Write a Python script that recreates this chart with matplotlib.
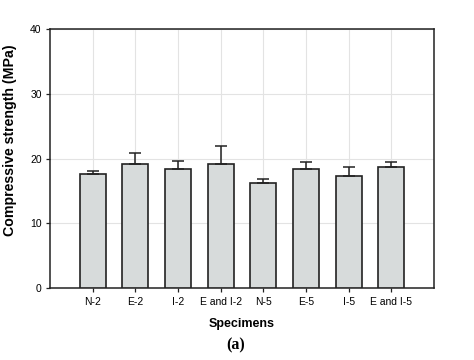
import numpy as np
import matplotlib.pyplot as plt

plt.rcParams['font.family'] = ['Liberation Sans', 'DejaVu Sans']

specimens = ['N-2', 'E-2', 'I-2', 'E and I-2', 'N-5', 'E-5', 'I-5', 'E and I-5']
strength = [17.6, 19.2, 18.4, 19.1, 16.2, 18.4, 17.3, 18.75]
error = [0.55, 1.7, 1.25, 2.8, 0.7, 1.15, 1.45, 0.75]

fig = plt.figure(figsize=(4.74, 3.6), dpi=100)
ax = fig.add_axes([50 / 474, 1 - 288.3 / 360, 384 / 474, 259.3 / 360])

x = np.arange(len(specimens))
ax.bar(x, strength, width=0.61, color='#d7dbdb', edgecolor='#222222', linewidth=1.2, zorder=3)
ax.errorbar(x, strength, yerr=[np.zeros(len(error)), error], fmt='none',
            ecolor='#222222', elinewidth=1.1, capsize=4, capthick=1.1, zorder=4)

ax.set_xlim(-1, 8)
ax.set_ylim(0, 40)
ax.set_yticks([0, 10, 20, 30, 40])
ax.set_xticks(x)
ax.set_xticklabels(specimens)
ax.grid(True, color='#e3e3e3', linewidth=0.8, zorder=0)
ax.set_axisbelow(True)
for s in ax.spines.values():
    s.set_color('#222222')
    s.set_linewidth(1.1)
ax.tick_params(labelsize=7.5, length=3, width=0.9, color='#222222', pad=3)

ax.set_ylabel('Compressive strength (MPa)', fontsize=10.2, fontweight='bold')
ax.yaxis.set_label_coords(-0.087, 0.572)
ax.set_xlabel('Specimens', fontsize=9, fontweight='bold', labelpad=8)
fig.text(235.5 / 474, 1 - 345 / 360, '(a)', ha='center', va='center', fontsize=11.5,
         fontweight='bold', family=['Liberation Serif', 'DejaVu Serif'])

fig.savefig('out.png', dpi=100)
